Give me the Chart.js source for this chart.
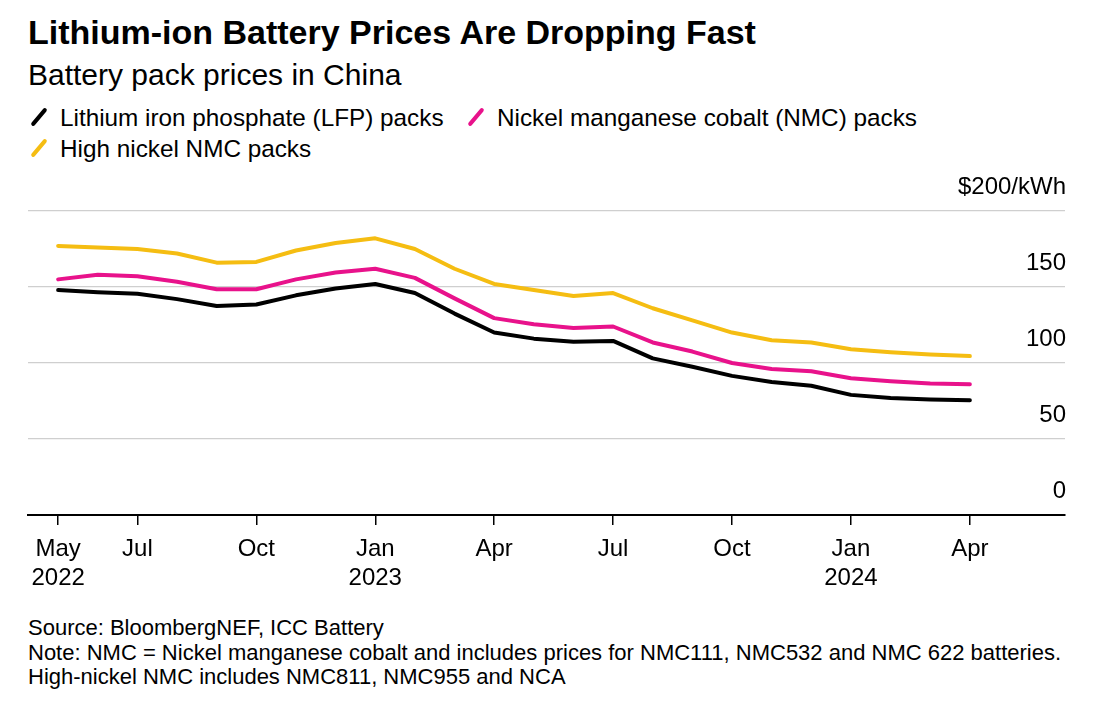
<!DOCTYPE html>
<html>
<head>
<meta charset="utf-8">
<script src="https://cdn.jsdelivr.net/npm/chart.js@4.4.1/dist/chart.umd.min.js"></script>
<style>
body{margin:0;background:#fff;font-family:"Liberation Sans",Arial,sans-serif;color:#000;}
#wrap{position:relative;width:1102px;height:715px;overflow:hidden;}
#title{position:absolute;left:28px;top:15px;font-size:34px;line-height:34px;font-weight:700;white-space:nowrap;}
#subtitle{position:absolute;left:28px;top:60px;font-size:30px;line-height:30px;white-space:nowrap;}
.item{position:absolute;white-space:nowrap;font-size:24.3px;line-height:31px;padding-left:32px;}
.mark{position:absolute;left:9px;top:4px;width:4px;height:22px;border-radius:2px;transform:rotate(40deg);}
#chartbox{position:absolute;left:0;top:160px;width:1102px;height:442px;}
#footer{position:absolute;left:28px;top:616px;font-size:22px;line-height:24.5px;white-space:nowrap;}
</style>
</head>
<body>
<div id="wrap">
  <div id="title">Lithium-ion Battery Prices Are Dropping Fast</div>
  <div id="subtitle">Battery pack prices in China</div>
  <div id="legend"></div>
  <div id="chartbox"><canvas id="chart"></canvas></div>
  <div id="footer">Source: BloombergNEF, ICC Battery<br>Note: NMC = Nickel manganese cobalt and includes prices for NMC111, NMC532 and NMC 622 batteries.<br>High-nickel NMC includes NMC811, NMC955 and NCA</div>
</div>
<script>
// monthly, May 2022 - Apr 2024
var months = ['May 2022','Jun 2022','Jul 2022','Aug 2022','Sep 2022','Oct 2022','Nov 2022','Dec 2022',
  'Jan 2023','Feb 2023','Mar 2023','Apr 2023','May 2023','Jun 2023','Jul 2023','Aug 2023','Sep 2023','Oct 2023','Nov 2023','Dec 2023',
  'Jan 2024','Feb 2024','Mar 2024','Apr 2024'];

var lfp = [148, 146.5, 145.5, 142, 137.5, 138.5, 144.5, 149, 152, 146, 132.5, 120, 116, 114, 114.5, 103, 97.5, 91.5, 87.5, 85, 79, 77, 76, 75.5];
var nmc = [155, 158, 157, 153.5, 148.5, 148.5, 155, 159.5, 162, 156, 142.5, 129.5, 125.5, 123, 124, 113.5, 107.5, 100, 96, 94.5, 90, 88, 86.5, 86];
var highNickel = [177, 176, 175, 172, 166, 166.5, 174, 179, 182, 175, 162, 152, 148, 144, 146, 136, 128, 120, 115, 113.5, 109, 107, 105.5, 104.5];

var seriesNames = ['Lithium iron phosphate (LFP) packs', 'Nickel manganese cobalt (NMC) packs', 'High nickel NMC packs'];
var seriesColors = ['#000000', '#e8128b', '#f5bd12'];

var xTickMonths = [0, 2, 5, 8, 11, 14, 17, 20, 23];
var xTickLabels = [['May','2022'], 'Jul', 'Oct', ['Jan','2023'], 'Apr', 'Jul', 'Oct', ['Jan','2024'], 'Apr'];
var yTicks = [0, 50, 100, 150, 200];

var fontFam = '"Liberation Sans", Arial, sans-serif';

// legend in html (two rows like the original)
var legendPos = [[28, 102], [465, 102], [28, 133]];
var legendHtml = '';
for (var i = 0; i < seriesNames.length; i++) {
    legendHtml += '<div class="item" style="left:' + legendPos[i][0] + 'px;top:' + legendPos[i][1] + 'px">' +
        '<span class="mark" style="background:' + seriesColors[i] + '"></span>' + seriesNames[i] + '</div>';
}
document.getElementById('legend').innerHTML = legendHtml;

function toPoints(arr){
    var pts = [];
    for (var i = 0; i < arr.length; i++) {
        pts.push({x: i, y: arr[i]});
    }
    return pts;
}

// y labels sit above the gridlines at the right edge
var yLabelPlugin = {
    id: 'yLabels',
    afterDraw: function(chart){
        var ctx = chart.ctx;
        var y = chart.scales.y;
        ctx.save();
        ctx.font = '24px ' + fontFam;
        ctx.fillStyle = '#000';
        ctx.textAlign = 'right';
        ctx.textBaseline = 'middle';
        for (var i = 0; i < yTicks.length; i++) {
            var txt = yTicks[i] == 200 ? '$200/kWh' : String(yTicks[i]);
            ctx.fillText(txt, chart.chartArea.right + 1, y.getPixelForValue(yTicks[i]) - 23.5);
        }
        ctx.restore();
    }
};

var ctx = document.getElementById('chart').getContext('2d');
var myChart = new Chart(ctx, {
    type: 'line',
    data: {
        datasets: [{
            label: seriesNames[2],
            data: toPoints(highNickel),
            borderColor: seriesColors[2]
        }, {
            label: seriesNames[1],
            data: toPoints(nmc),
            borderColor: seriesColors[1]
        }, {
            label: seriesNames[0],
            data: toPoints(lfp),
            borderColor: seriesColors[0]
        }]
    },
    options: {
        responsive: true,
        maintainAspectRatio: false,
        animation: false,
        layout: {padding: {left: 28, right: 37, top: 51, bottom: 0}},
        elements: {
            point: {radius: 0},
            line: {borderWidth: 4, tension: 0, borderCapStyle: 'round', borderJoinStyle: 'round'}
        },
        plugins: {legend: {display: false}, tooltip: {enabled: false}},
        scales: {
            x: {
                type: 'linear',
                min: -0.76,
                max: 25.4,
                afterBuildTicks: function(scale){
                    scale.ticks = xTickMonths.map(function(v){ return {value: v}; });
                },
                grid: {drawOnChartArea: false, drawTicks: true, tickLength: 10, color: '#000', lineWidth: 1.5},
                border: {display: true, color: '#000', width: 2},
                ticks: {
                    autoSkip: false,
                    maxRotation: 0,
                    padding: 9.5,
                    color: '#000',
                    font: {family: fontFam, size: 24, lineHeight: 1.21},
                    callback: function(value, index){ return xTickLabels[index]; }
                }
            },
            y: {
                position: 'right',
                min: 0,
                max: 200,
                afterBuildTicks: function(scale){
                    scale.ticks = yTicks.map(function(v){ return {value: v}; });
                },
                grid: {color: '#cfcfcf', lineWidth: 1.3, drawTicks: false},
                border: {display: false},
                ticks: {display: false}
            }
        }
    },
    plugins: [yLabelPlugin]
});
</script>
</body>
</html>
